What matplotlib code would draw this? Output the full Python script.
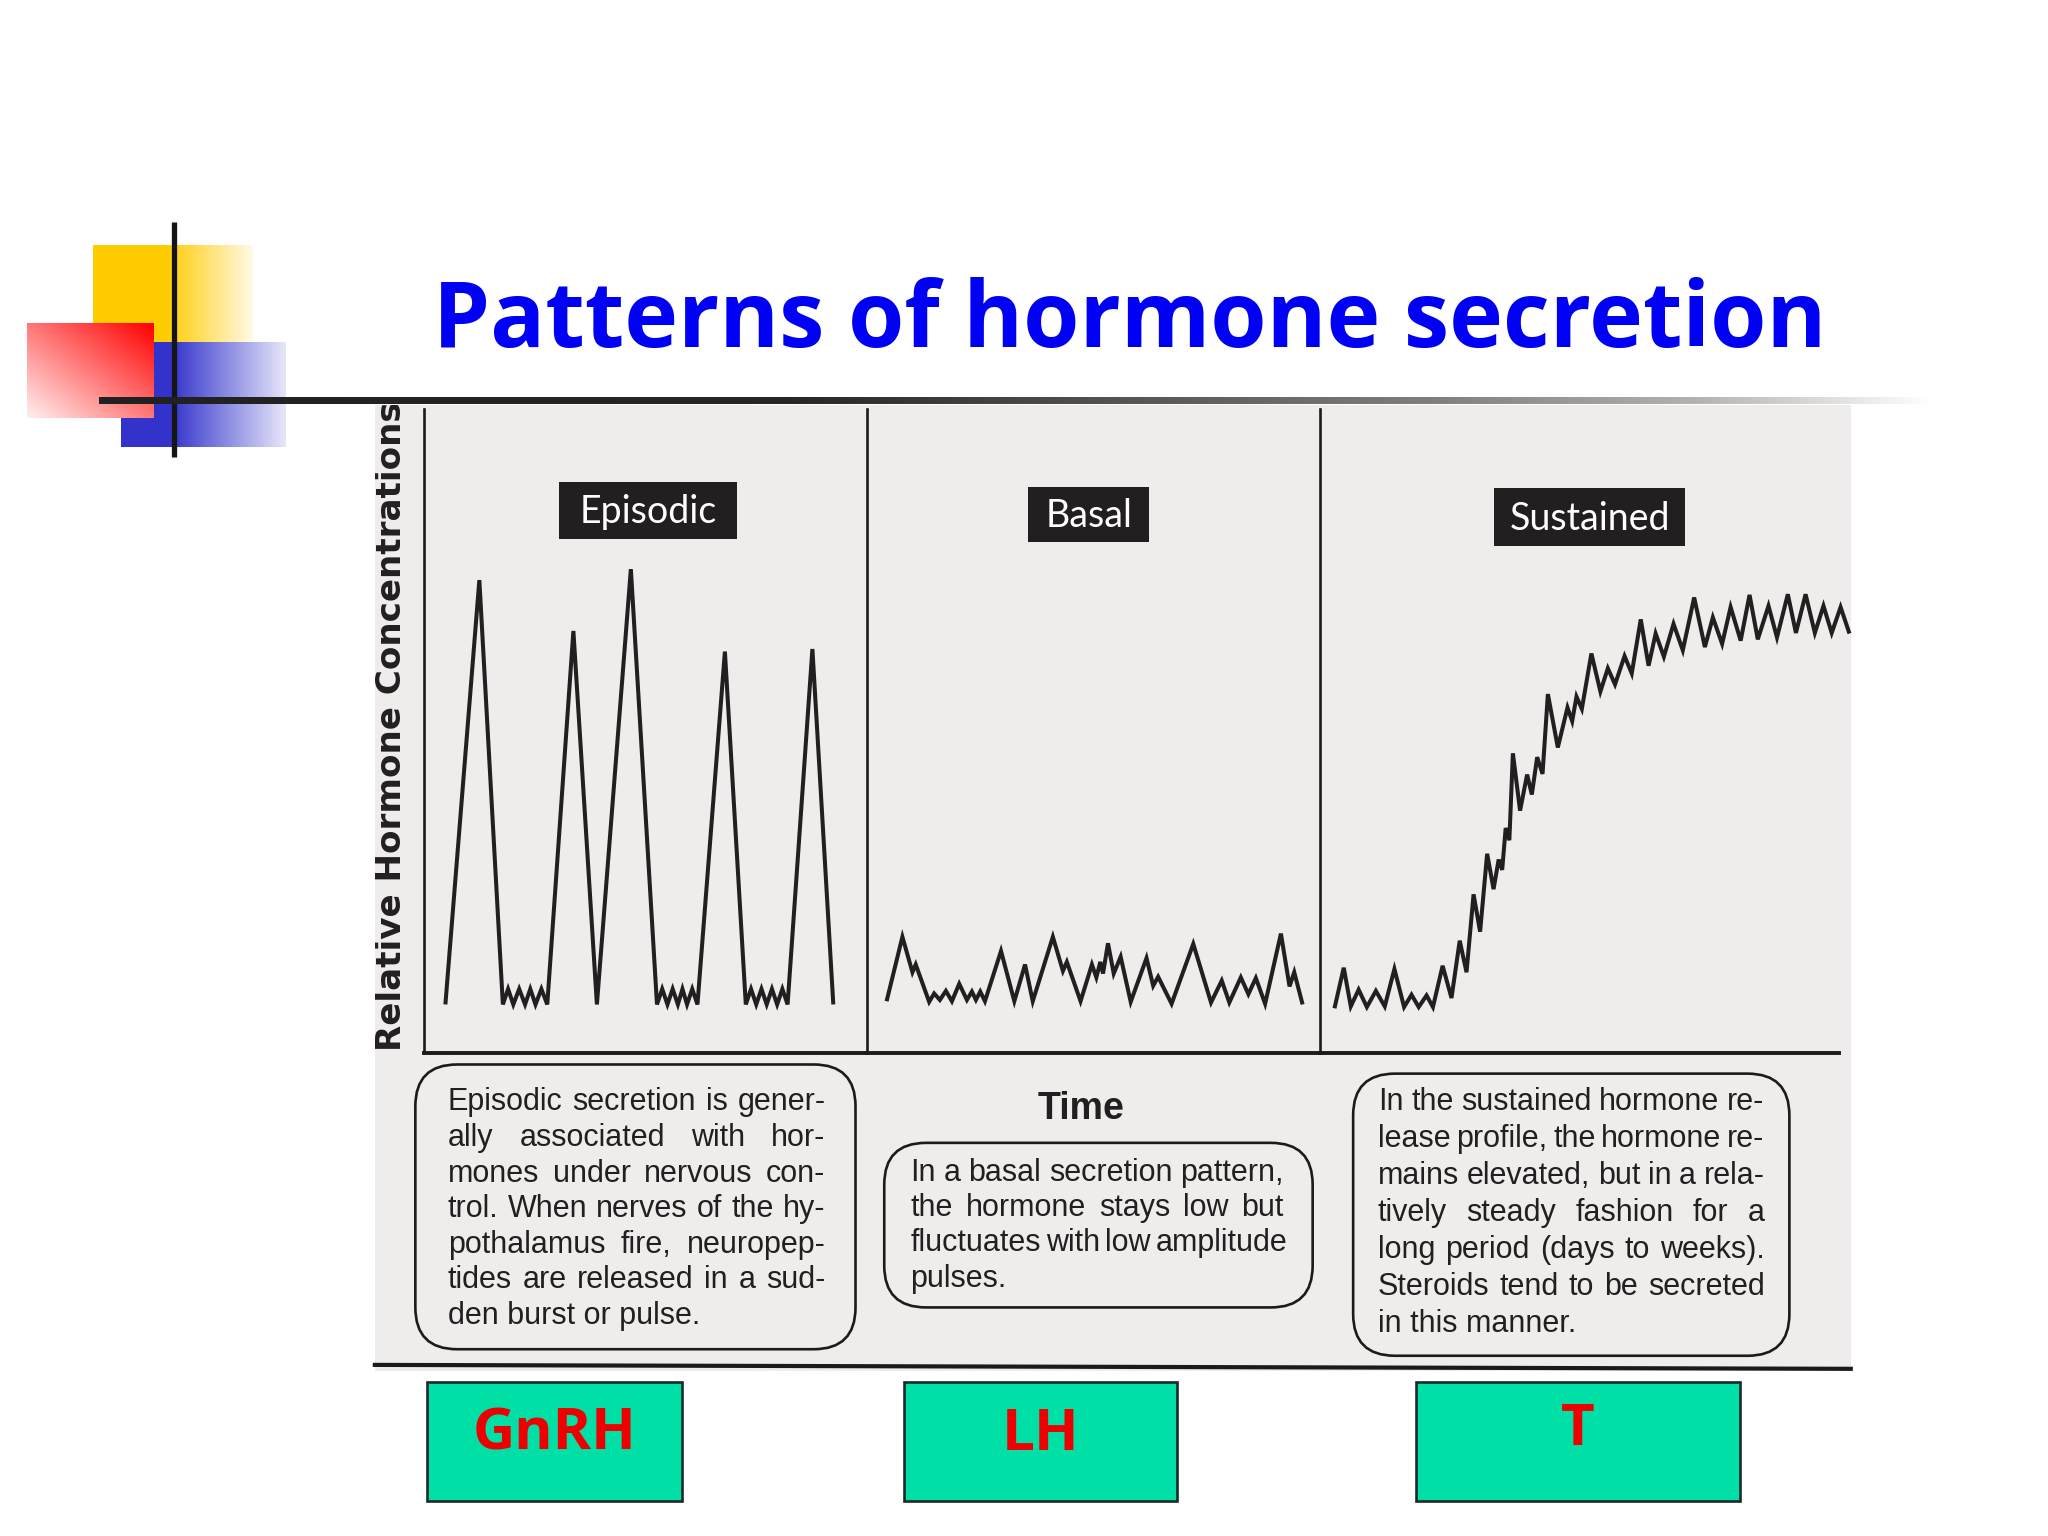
import numpy as np
import matplotlib
matplotlib.use("Agg")
import matplotlib.pyplot as plt
from matplotlib.transforms import Bbox, TransformedBbox
from matplotlib.patches import Rectangle, FancyBboxPatch

# --- data (time in arbitrary units, concentration 0-100) ---
episodic_t = [16, 42, 60, 64, 68, 72.5, 77, 81, 85, 89.5, 94, 114, 132, 158, 178,
              182, 186, 190, 194, 197.5, 201, 205, 209, 230, 246, 250, 254, 258, 262,
              266, 270, 274, 278, 297, 313]
episodic_c = [7.5, 73.4, 7.5, 9.9, 7.5, 9.9, 7.5, 9.9, 7.5, 9.9, 7.5, 65.5, 7.5, 75.1, 7.5,
              9.9, 7.5, 9.9, 7.5, 9.9, 7.5, 9.9, 7.5, 62.3, 7.5, 9.9, 7.5, 9.9, 7.5,
              9.9, 7.5, 9.9, 7.5, 62.7, 7.5]

basal_t = [14.8, 26.9, 34.6, 37.1, 47.4, 51.2, 55.6, 60.2, 64.8, 70.4, 76.3, 80.1, 83.2,
           86.5, 90.1, 102.4, 112.6, 120.8, 126.7, 142.1, 149.8, 152.8, 163.3, 172.0,
           175.4, 178.4, 180.5, 184.3, 188.7, 194.0, 201.7, 213.8, 218.9, 222.7, 233.0,
           249.6, 263.2, 271.4, 277.2, 286.0, 291.8, 297.5, 304.6, 316.7, 323.3, 326.9,
           333.3]
basal_c = [8.0, 18.0, 12.5, 13.7, 7.9, 9.2, 8.2, 9.6, 8.0, 10.7, 8.2, 9.5, 8.2,
           9.5, 8.0, 15.8, 8.0, 13.7, 8.0, 18.0, 12.7, 14.1, 8.0, 13.7,
           11.7, 14.1, 12.3, 17.0, 12.3, 14.9, 7.9, 14.7, 10.4, 11.8, 7.6,
           16.9, 7.8, 11.2, 7.8, 11.7, 9.1, 11.6, 7.6, 18.5, 10.3, 12.5,
           7.5]

sustained_t = [10.7, 17.8, 23.2, 29.2, 35.5, 42.4, 49.2, 56.6, 64.0, 69.7, 75.2, 81.2,
               86.1, 93.5, 100.3, 106.6, 111.8, 117.2, 122.2, 127.6, 132.5, 136.4, 139.1,
               141.8, 144.6, 147.3, 152.8, 158.2, 161.8, 165.9, 170.0, 174.1, 181.7,
               189.1, 192.7, 196.0, 200.1, 207.4, 214.3, 220.0, 225.5, 232.8, 238.3,
               245.2, 251.2, 256.6, 262.9, 270.3, 277.4, 286.1, 294.3, 300.4, 307.5,
               314.0, 321.7, 328.5, 334.8, 343.0, 349.5, 357.8, 364.0, 371.4, 378.5,
               385.1, 391.4, 398.2, 405.0]
sustained_c = [6.9, 13.2, 7.2, 9.8, 7.1, 9.6, 7.2, 13.0, 7.1, 9.0, 7.1, 8.9,
               7.1, 13.5, 8.5, 17.4, 12.5, 24.6, 18.8, 30.9, 25.4, 30.0, 28.4,
               34.9, 33.0, 46.5, 37.6, 43.2, 40.1, 45.9, 43.3, 55.7, 47.4,
               53.6, 51.5, 55.3, 53.4, 62.0, 56.1, 59.7, 57.2, 61.6, 58.9,
               67.3, 60.1, 65.1, 61.5, 66.6, 62.5, 70.7, 63.0, 67.6, 63.5,
               69.2, 64.0, 71.1, 64.2, 69.4, 64.5, 71.2, 65.2, 71.2, 65.2,
               69.4, 65.2, 69.2, 65.1]

panel_names = ["Episodic", "Basal", "Sustained"]
hormones = ["GnRH", "LH", "T"]
title = "Patterns of hormone secretion"
y_label = "Relative Hormone Concentrations"
x_label = "Time"

episodic_text = ["Episodic secretion is gener-",
                 "ally associated with hor-",
                 "mones under nervous con-",
                 "trol.  When nerves of the hy-",
                 "pothalamus fire, neuropep-",
                 "tides are released in a sud-",
                 "den burst or pulse."]
basal_text = ["In a basal secretion pattern,",
              "the hormone stays low but",
              "fluctuates with low amplitude",
              "pulses."]
sustained_text = ["In the sustained hormone re-",
                  "lease profile, the hormone re-",
                  "mains elevated, but in a rela-",
                  "tively steady fashion for a",
                  "long period (days to weeks).",
                  "Steroids tend to be secreted",
                  "in this manner."]

# --- page layout (slide units) ---
W, H = 1568, 1176
fig = plt.figure(figsize=(20.48, 15.36), dpi=100)
fig.patch.set_facecolor("white")
ov = fig.add_axes([0, 0, 1, 1])
ov.set_xlim(0, W)
ov.set_ylim(H, 0)
ov.axis("off")


def fig_rect(x0, y0, x1, y1):
    return [x0 / W, 1 - y1 / H, (x1 - x0) / W, (y1 - y0) / H]


def gradient(x0, x1, y0, y1, rgb, amount, z):
    # colour blended towards white, like a slide gradient fill
    a = amount[..., None]
    img = np.ones(amount.shape + (3,)) * (1 - a) + np.array(rgb) * a
    ov.imshow(img, extent=[x0, x1, y1, y0], aspect="auto",
              interpolation="bilinear", zorder=z)


# decorative squares
u = np.linspace(0, 1, 200)
gradient(71, 193, 188, 262, (1.0, 0.8, 0.0),
         np.clip(1 - np.maximum(u - 0.45, 0) / 0.55 * 0.9, 0, 1)[None, :], 2)
gradient(93, 219, 262, 342, (0.2, 0.2, 0.8),
         np.clip(1 - np.maximum(u - 0.3, 0) / 0.7 * 0.88, 0, 1)[None, :], 2)
uu, vv = np.meshgrid(np.linspace(0, 1, 100), np.linspace(0, 1, 100))
gradient(21, 118, 248, 320, (1.0, 0.0, 0.0), 0.06 + 0.94 * (uu + (1 - vv)) / 2, 3)
ov.plot([133, 133], [170, 350], color="#151515", lw=3.8, zorder=5, solid_capstyle="butt")
lx = np.linspace(76, 1480, 400)
grey = np.interp(lx, [76, 600, 1100, 1300, 1480], [0.13, 0.15, 0.5, 0.7, 1.0])
line_img = np.repeat(grey[None, :, None], 3, axis=2)
ov.imshow(line_img, extent=[76, 1480, 309.5, 304.5], aspect="auto",
          interpolation="bilinear", zorder=5)

ov.text(865, 266, title, ha="center", va="baseline", fontsize=65.5,
        fontweight="bold", family="Open Sans", color="#0000F5")

# scanned figure background
scan = Rectangle((287, 310), 1130, 740, facecolor="#efedec", edgecolor="none", zorder=1)
ov.add_patch(scan)
ov.plot([287, 1417], [1045, 1048], color="#1a1a1a", lw=3, zorder=2)
scan_clip = TransformedBbox(Bbox.from_extents(287, 1050, 1417, 310), ov.transData)

cut = ov.text(855, 319, "The Reproductive System", ha="center", va="baseline",
              fontsize=26, color="#222222", family="Lato", zorder=2, clip_on=True)
cut.set_clip_box(scan_clip)
cut.set_clip_path(None)

ylab = ov.text(307, 805, y_label, rotation=90, rotation_mode="anchor", ha="left",
               va="baseline", fontsize=24.6, fontweight="bold", family="DejaVu Sans",
               color="#231f20", zorder=2, clip_on=True)
ylab.set_clip_box(scan_clip)
ylab.set_clip_path(None)

# --- the three panels ---
panels = [(325, 664, episodic_t, episodic_c),
          (664, 1011, basal_t, basal_c),
          (1011, 1408, sustained_t, sustained_c)]
for x0, x1, t, c in panels:
    ax = fig.add_axes(fig_rect(x0, 313, x1, 806))
    ax.patch.set_alpha(0)
    ax.set_xlim(0, x1 - x0)
    ax.set_ylim(0, 100)
    ax.set_xticks([])
    ax.set_yticks([])
    for s in ["top", "right"]:
        ax.spines[s].set_visible(False)
    ax.spines["left"].set_linewidth(1.9)
    ax.spines["bottom"].set_linewidth(2.8)
    for s in ["left", "bottom"]:
        ax.spines[s].set_color("#1e1a1a")
    ax.plot(t, c, color="#231f20", lw=2.9, solid_joinstyle="miter",
            solid_capstyle="butt", clip_on=False)

label_boxes = [(428, 369, 564, 413), (787, 373, 880, 415), (1144, 374, 1290, 418)]
for name, (x0, y0, x1, y1) in zip(panel_names, label_boxes):
    ov.add_patch(Rectangle((x0, y0), x1 - x0, y1 - y0, facecolor="#231f20",
                           edgecolor="none", zorder=3))
    ov.text((x0 + x1) / 2, (y0 + y1) / 2 + 1, name, ha="center", va="center",
            fontsize=27, family="Lato", color="white", zorder=4)

# --- description boxes (justified lines) ---
desc_kw = dict(fontsize=22, family="Liberation Sans", color="#231f20",
               va="baseline", zorder=4)
renderer = fig.canvas.get_renderer()
px_to_data = W / fig.bbox.width


def text_block(lines, x0, x1, y_first, dy):
    for i, line in enumerate(lines):
        y = y_first + i * dy
        if i == len(lines) - 1:
            ov.text(x0, y, line, **desc_kw)
            continue
        words = line.split()
        texts = [ov.text(x0, y, w, **desc_kw) for w in words]
        widths = [tx.get_window_extent(renderer).width * px_to_data for tx in texts]
        gap = max((x1 - x0 - sum(widths)) / (len(words) - 1), 4.0)
        x = x0
        for tx, w in zip(texts, widths):
            tx.set_x(x)
            x += w + gap


desc_boxes = [((318, 815, 655, 1033), episodic_text, (343, 632, 850, 27.3)),
              ((677, 875, 1005, 1001), basal_text, (697, 983, 904, 27.0)),
              ((1036, 822, 1370, 1038), sustained_text, (1055, 1351, 850, 28.3))]
for (bx0, by0, bx1, by1), lines, (tx0, tx1, ty, dy) in desc_boxes:
    ov.add_patch(FancyBboxPatch((bx0, by0), bx1 - bx0, by1 - by0,
                                boxstyle="round,pad=0,rounding_size=32",
                                facecolor="none", edgecolor="#1e1a1a", lw=1.9, zorder=3))
    text_block(lines, tx0, tx1, ty, dy)

ov.text(828, 849, x_label, ha="center", va="center", fontsize=27, fontweight="bold",
        family="Liberation Sans", color="#231f20", zorder=4)

# --- hormone boxes ---
hormone_boxes = [(327, 1058, 522, 1149), (692, 1058, 901, 1149), (1084, 1058, 1332, 1149)]
hormone_text_y = [1110, 1110, 1106]
for name, (x0, y0, x1, y1), ty in zip(hormones, hormone_boxes, hormone_text_y):
    ov.add_patch(Rectangle((x0, y0), x1 - x0, y1 - y0, facecolor="#00DFA6",
                           edgecolor="#1a2a28", lw=1.9, zorder=3))
    ov.text((x0 + x1) / 2, ty, name, ha="center", va="baseline", fontsize=42,
            fontweight="bold", family="Open Sans", color="#EE0000", zorder=4)

fig.savefig("out.png", dpi=100, facecolor="white")
